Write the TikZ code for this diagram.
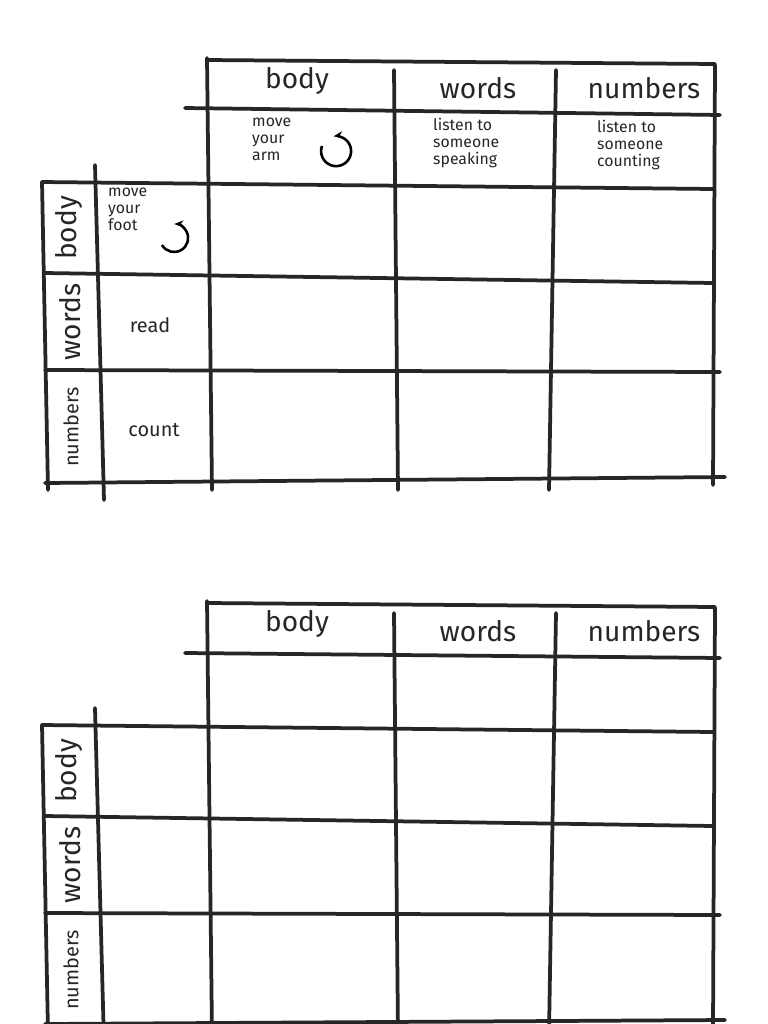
\documentclass[tikz,border=0pt]{standalone}
\usepackage{fontspec}
\setmainfont{Fira Sans}
\usetikzlibrary{arrows.meta}
\begin{document}
\begin{tikzpicture}[x=0.03cm,y=-0.03cm,
  ln/.style={line width=3.2pt,color=black!85,line cap=round},
  hd/.style={font=\fontsize{24}{24}\selectfont,text=black!85},
  sm/.style={font=\fontsize{13.5}{14.5}\selectfont,text=black!85,align=left,inner sep=0pt},
  md/.style={font=\fontsize{17}{17}\selectfont,text=black!85}]
\useasboundingbox (0,0) rectangle (768,1024);
\fill[white] (0,0) rectangle (768,1024);
% ---------- top table
\draw[ln] (207,60) -- (715,64);
\draw[ln] (185,108) -- (720,115);
\draw[ln] (42,182) -- (713,189);
\draw[ln] (45,273) -- (713,283);
\draw[ln] (45,370) -- (720,372);
\draw[ln] (45,483) -- (725,477);
\draw[ln] (207,58) -- (212,490);
\draw[ln] (394,70) -- (398,490);
\draw[ln] (556,70) -- (549,490);
\draw[ln] (715,65) -- (713,485);
\draw[ln] (42,182) -- (48,490);
\draw[ln] (95,165) -- (104,500);
\node[hd] (h1) at (297,81) {body};
\node[hd] (h2) at (478,88) {words};
\node[hd] (h3) at (644,88) {numbers};
\node[sm,anchor=north west] (c1) at (252,118) {move\\your\\arm};
\node[sm,anchor=north west] (c2) at (433,118) {listen to\\someone\\speaking};
\node[sm,anchor=north west] (c3) at (597,120) {listen to\\someone\\counting};
\node[sm,anchor=north west] (r1) at (108,188) {move\\your\\foot};
\node[md] (r2) at (150,325) {read};
\node[md] (r3) at (154,430) {count};
\node[hd,rotate=90] (v1) at (69,228) {body};
\node[hd,rotate=90] (v2) at (70,322) {words};
\node[md,rotate=90] (v3) at (71,427) {numbers};
\draw[line width=2.2pt,-{Stealth[length=8pt]}] (322,146) arc[start angle=200,end angle=-100,radius=15];
\draw[line width=2.2pt,-{Stealth[length=8pt]}] (162,245) arc[start angle=150,end angle=-90,radius=14];
% ---------- bottom table
\begin{scope}[yshift=-543*0.03cm]
\draw[ln] (207,60) -- (715,64);
\draw[ln] (185,110) -- (720,115);
\draw[ln] (42,182) -- (713,189);
\draw[ln] (45,273) -- (713,283);
\draw[ln] (45,370) -- (720,372);
\draw[ln] (45,481) -- (725,477);
\draw[ln] (207,58) -- (212,490);
\draw[ln] (394,70) -- (398,490);
\draw[ln] (556,70) -- (549,490);
\draw[ln] (715,65) -- (713,485);
\draw[ln] (42,182) -- (48,490);
\draw[ln] (95,165) -- (104,500);
\node[hd] (g1) at (297,81) {body};
\node[hd] (g2) at (478,88) {words};
\node[hd] (g3) at (644,88) {numbers};
\node[hd,rotate=90] (w1) at (69,228) {body};
\node[hd,rotate=90] (w2) at (70,322) {words};
\node[md,rotate=90] (w3) at (71,427) {numbers};
\end{scope}
\end{tikzpicture}
\end{document}
